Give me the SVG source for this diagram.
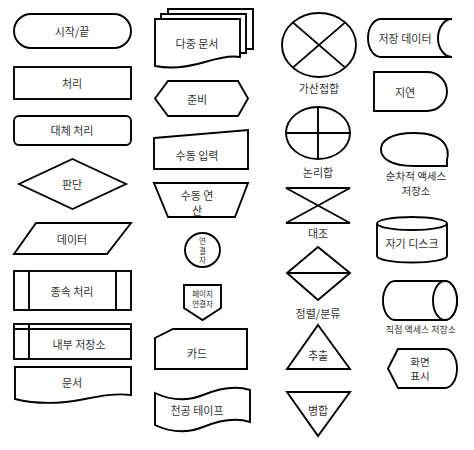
<svg xmlns="http://www.w3.org/2000/svg" width="474" height="450" viewBox="0 0 474 450">
<style>
.s{fill:#fff;stroke:#000;stroke-width:1.9;stroke-linejoin:miter}
.l{fill:none;stroke:#000;stroke-width:1.9}
text{font-family:"Noto Sans CJK KR","Noto Sans",sans-serif;font-size:11px;fill:#333;text-anchor:middle;dominant-baseline:central}
.sm{font-size:9px}
.xs{font-size:7.5px}
.md{font-size:10.5px}
</style>
<rect width="474" height="450" fill="#fff"/>
<g id="connectors"/>
<!-- column 1 -->
<g id="terminal"><rect class="s" x="14" y="14" width="117" height="34" rx="17"/><text x="72" y="31">시작/끝</text></g>
<g id="process"><rect class="s" x="14" y="67" width="117" height="32"/><text x="72" y="83">처리</text></g>
<g id="alt-process"><rect class="s" x="14" y="116" width="117" height="29" rx="5"/><text x="72" y="130">대체 처리</text></g>
<g id="decision"><path class="s" d="M72.5,159 L126,184 L72.5,209 L19,184 Z"/><text x="72" y="184">판단</text></g>
<g id="data"><path class="s" d="M36,223 H131 L107,254 H14 Z"/><text x="72" y="239">데이터</text></g>
<g id="predefined"><rect class="s" x="14" y="271" width="117" height="39"/><path class="l" d="M29,271 V310 M116,271 V310"/><text x="72" y="291">종속 처리</text></g>
<g id="internal-storage"><rect class="s" x="14" y="324" width="117" height="35"/><path class="l" d="M14,329 H131 M29,324 V359"/><text x="79" y="344">내부 저장소</text></g>
<g id="document"><path class="s" d="M15,367 H131 V395 C115,393 100,396 85,399 C60,404 35,404 15,399 Z"/><text x="72" y="382">문서</text></g>
<!-- column 2 -->
<g id="multi-document">
<path class="s" d="M168,9 H253 V49 H168 Z"/>
<path class="s" d="M161,14 H246 V53 H161 Z"/>
<path class="s" d="M155,19 H240 V57 C230,55 218,58 205,62 C185,68 170,69 155,66 Z"/>
<text x="197" y="43">다중 문서</text></g>
<g id="preparation"><path class="s" d="M168,81 H238 L248,98.5 L238,116 H168 L155,98.5 Z"/><text x="197" y="99">준비</text></g>
<g id="manual-input"><path class="s" d="M154,138 L248,130 V169 H154 Z"/><text x="197" y="155">수동 입력</text></g>
<g id="manual-operation"><path class="s" d="M154,183 H248 L235,217 H168 Z"/><text x="197" y="195">수동 연</text><text x="197" y="210">산</text></g>
<g id="connector"><ellipse class="s" cx="202.5" cy="250" rx="17.5" ry="17"/><text class="xs" x="202.5" y="240.5">연</text><text class="xs" x="202.5" y="250">결</text><text class="xs" x="202.5" y="259.5">자</text></g>
<g id="offpage-connector"><path class="s" d="M184,285 H221 V308 L202.5,320 L184,308 Z"/><text class="xs" x="202.5" y="293">페이지</text><text class="xs" x="202.5" y="303">연결자</text></g>
<g id="card"><path class="s" d="M173,329 H247 V369 H155 V338 Z"/><text x="197" y="353">카드</text></g>
<g id="punched-tape"><path class="s" d="M155,393 C172,401 188,401 203,395 C220,388 235,385 250,390 V422 C235,417 220,420 203,427 C188,433 172,433 155,425 Z"/><text x="197" y="410">천공 테이프</text></g>
<!-- column 3 -->
<g id="summing-junction"><ellipse class="s" cx="319" cy="45" rx="37" ry="32"/><path class="l" d="M292.8,22.4 L345.2,67.6 M345.2,22.4 L292.8,67.6"/><text x="319" y="88">가산접합</text></g>
<g id="or"><ellipse class="s" cx="318" cy="133" rx="32" ry="26"/><path class="l" d="M286,133 H350 M318,107 V159"/><text x="318" y="172">논리합</text></g>
<g id="collate"><path class="s" d="M286,188 H350 L286,223 H350 Z"/><text x="318" y="233">대조</text></g>
<g id="sort"><path class="s" d="M318,247 L350,273 L318,300 L287,273 Z"/><path class="l" d="M287,273 H350"/><text x="318" y="313">정렬/분류</text></g>
<g id="extract"><path class="s" d="M318,325 L350,369 H287 Z"/><text x="318" y="355">추출</text></g>
<g id="merge"><path class="s" d="M287,392 H350 L318,436 Z"/><text x="318" y="410">병합</text></g>
<!-- column 4 -->
<g id="stored-data"><path class="s" d="M381,19 H452 A14,19 0 0 0 452,57 H381 A13,19 0 0 1 381,19 Z"/><text x="405" y="38">저장 데이터</text></g>
<g id="delay"><path class="s" d="M374,72 H427 A20,19.5 0 0 1 427,111 H374 Z"/><text x="405" y="92">지연</text></g>
<g id="sequential-access"><path class="s" d="M414,166 C390,166 381,158 381,149.5 C381,141 390,133 414,133 C445,133 450,148 447,160 V166 Z"/><text class="md" x="416" y="175.5">순차적 액세스</text><text class="md" x="416" y="190">저장소</text></g>
<g id="magnetic-disk"><path class="s" d="M377,223.5 V256 A35,6.5 0 0 0 447,256 V223.5"/><ellipse class="s" cx="412" cy="223.5" rx="35" ry="6.5"/><text x="412" y="243">자기 디스크</text></g>
<g id="direct-access"><path class="s" d="M395,281 H445 A12,19.5 0 0 1 445,320 H395 A12,19.5 0 0 1 395,281 Z"/><ellipse class="s" cx="445" cy="300.5" rx="12" ry="19.5"/><text class="sm" x="421" y="329">직접 액세스 저장소</text></g>
<g id="display"><path class="s" d="M388,368.5 L398,349 H445 A12,19.5 0 0 1 445,388 H398 Z"/><text class="md" x="420" y="361">화면</text><text class="md" x="420" y="375.5">표시</text></g>
</svg>
